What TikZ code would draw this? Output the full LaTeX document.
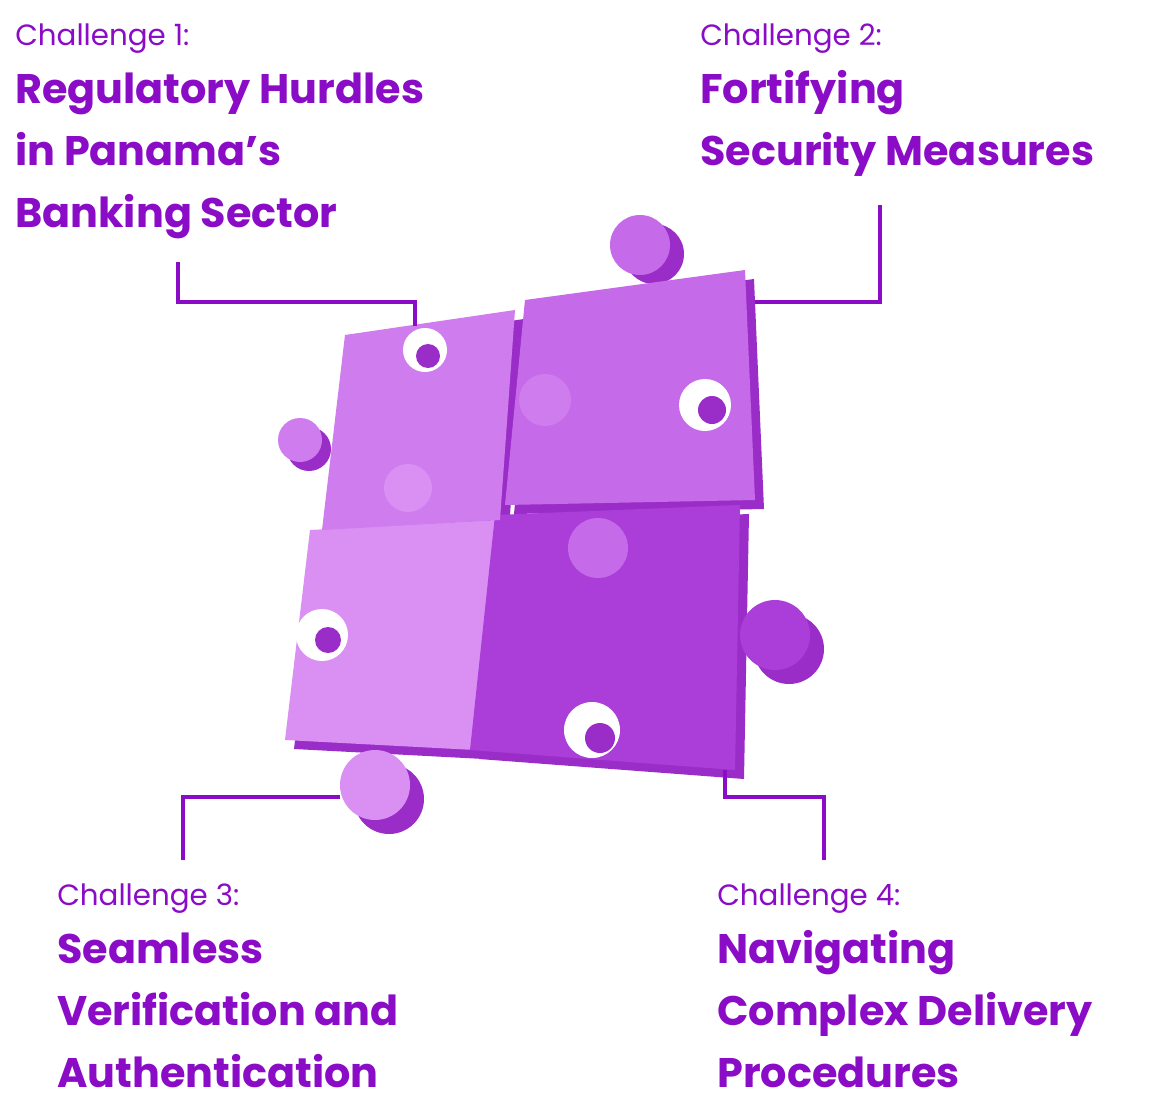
\documentclass[tikz,border=0pt]{standalone}
\usepackage{fontspec}
\setmainfont{Poppins}
\definecolor{pur}{HTML}{8A0CC6}
\definecolor{ctl}{HTML}{CF7CEE}
\definecolor{ctr}{HTML}{C56AE8}
\definecolor{cbl}{HTML}{DA90F3}
\definecolor{cbr}{HTML}{AB3ED8}
\definecolor{side}{HTML}{9A2CC8}
\begin{document}
\begin{tikzpicture}[x=0.75pt,y=-0.75pt,
  lbl/.style={anchor=base west,text=pur,inner sep=0,font=\fontsize{22}{26}\selectfont},
  ttl/.style={anchor=base west,text=pur,inner sep=0,font=\fontsize{31}{36}\selectfont\bfseries},
  con/.style={draw=pur,line width=3pt}]
\fill[white] (0,0) rectangle (1161,1114);
% sides (extrusion)
\begin{scope}[shift={(9,9)}]
\fill[side] (310,530)--(495,520)--(475,750)--(285,740)--cycle (380,790) circle (35);
\fill[side] (495,515)--(740,505)--(735,770)--(470,750)--cycle (780,640) circle (35);
\fill[side] (345,335)--(515,310)--(500,520)--(322,530)--cycle (300,440) circle (22);
\fill[side] (525,300)--(745,270)--(755,500)--(505,505)--cycle (645,245) circle (30);
\end{scope}
% faces
\fill[cbl] (310,530)--(495,520)--(475,750)--(285,740)--cycle (375,785) circle (35);
\fill[cbr] (495,515)--(740,505)--(735,770)--(470,750)--cycle (775,635) circle (35);
\fill[cbl] (445,620) circle (28);
\fill[ctl] (345,335)--(515,310)--(500,520)--(322,530)--cycle (300,440) circle (22);
\fill[cbl] (408,488) circle (24);
\fill[ctr] (525,300)--(745,270)--(755,500)--(505,505)--cycle (640,245) circle (30);
\fill[ctl] (545,400) circle (26);
\fill[ctr] (598,548) circle (30);
% notches
\fill[white] (425,350) circle (22) (705,405) circle (26) (322,635) circle (26) (592,730) circle (28);
\fill[side] (428,356) circle (12) (712,410) circle (14) (328,640) circle (13) (600,738) circle (15);
% connectors
\coordinate (a1) at (178,262); \coordinate (b1) at (415,326);
\draw[con] (a1) |- (415,302) -- (b1);
\coordinate (a2) at (880,205); \coordinate (b2) at (755,302);
\draw[con] (a2) |- (b2);
\coordinate (a3) at (183,860); \coordinate (b3) at (340,797);
\draw[con] (a3) |- (b3);
\coordinate (a4) at (824,860); \coordinate (b4) at (725,770);
\draw[con] (a4) |- (725,797) -- (b4);
% texts
\node[lbl] (c1) at (15,45) {Challenge 1:};
\node[ttl] (t1a) at (15,103) {Regulatory Hurdles};
\node[ttl] (t1b) at (15,165) {in Panama's};
\node[ttl] (t1c) at (15,227) {Banking Sector};
\node[lbl] (c2) at (700,45) {Challenge 2:};
\node[ttl] (t2a) at (700,103) {Fortifying};
\node[ttl] (t2b) at (700,165) {Security Measures};
\node[lbl] (c3) at (57,905) {Challenge 3:};
\node[ttl] (t3a) at (57,963) {Seamless};
\node[ttl] (t3b) at (57,1025) {Verification and};
\node[ttl] (t3c) at (57,1087) {Authentication};
\node[lbl] (c4) at (717,905) {Challenge 4:};
\node[ttl] (t4a) at (717,963) {Navigating};
\node[ttl] (t4b) at (717,1025) {Complex Delivery};
\node[ttl] (t4c) at (717,1087) {Procedures};
\useasboundingbox (0,0) rectangle (1161,1114);
\end{tikzpicture}
\end{document}
